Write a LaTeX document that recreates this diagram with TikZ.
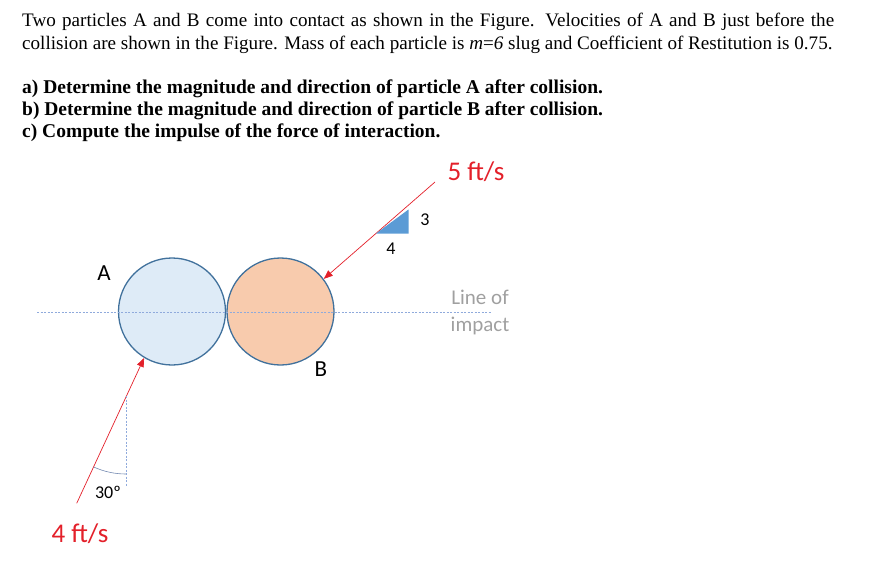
\documentclass[tikz,border=0pt]{standalone}
\usepackage{fontspec}
\setmainfont{Liberation Serif}
\newfontfamily\calib{Carlito}
\usepackage{xcolor}
\usepackage{tikz}
\usetikzlibrary{arrows.meta}
\definecolor{edge}{HTML}{41719C}
\definecolor{fillA}{HTML}{DEEBF7}
\definecolor{fillB}{HTML}{F8CBAD}
\definecolor{vel}{HTML}{E3202A}
\definecolor{guide}{HTML}{8FAADC}
\definecolor{muted}{HTML}{A0A0A0}
\definecolor{slope}{HTML}{5B9BD5}
\tikzset{
  txt/.style={anchor=west, inner sep=0pt, font=\fontsize{19.1}{23}\selectfont},
  btxt/.style={txt, font=\fontsize{19.5}{23}\selectfont\bfseries},
  ball/.style={circle, draw=edge, line width=1.3pt, minimum size=107pt, inner sep=0pt},
  vec/.style={draw=vel, line width=0.7pt, -{Triangle[length=9pt,width=7pt]}},
  lbl/.style={font=\calib\fontsize{23}{26}\selectfont, inner sep=0pt},
  small/.style={font=\calib\fontsize{18}{21}\selectfont, inner sep=0pt},
  speed/.style={text=vel, font=\calib\fontsize{27}{30}\selectfont, inner sep=0pt},
  gline/.style={draw=guide, line width=0.6pt, dash pattern=on 2pt off 1.5pt}
}
\begin{document}
\begin{tikzpicture}[x=1pt,y=-1pt]
\useasboundingbox (0,0) rectangle (896,563);
% problem text
\node[txt] (l1) at (22,22) {\makebox[812pt][s]{Two particles A and B come into contact as shown in the Figure. Velocities of A and B just before the}};
\node[txt] (l2) at (22,45) {collision are shown in the Figure. Mass of each particle is \textit{m}=\textit{6} slug and Coefficient of Restitution is 0.75.};
\node[btxt] (qa) at (22,89) {a) Determine the magnitude and direction of particle A after collision.};
\node[btxt] (qb) at (22,111) {b) Determine the magnitude and direction of particle B after collision.};
\node[btxt] (qc) at (22,133) {c) Compute the impulse of the force of interaction.};
% particles
\node[ball, fill=fillA] (pA) at (172,311.5) {};
\node[ball, fill=fillB] (pB) at (280.5,311.5) {};
\node[lbl] (labA) at (104,273) {A};
\node[lbl] (labB) at (321,369) {B};
% line of impact
\coordinate (li1) at (37,312);
\coordinate (li2) at (492,312);
\draw[gline] (li1) -- (li2);
\node[text=muted, font=\calib\fontsize{21}{27}\selectfont, align=center, inner sep=0pt] (loi) at (480,312) {Line of\\impact};
% velocity of B
\coordinate (sB) at (435,182);
\draw[vec] (sB) -- (pB.37);
\node[speed] (vB) at (476,172) {5 ft/s};
\fill[slope] (376,233.5) -- (408.5,233.5) -- (408.5,209.5) -- cycle;
\node[small] (n3) at (425,220) {3};
\node[small] (n4) at (391,249) {4};
% velocity of A
\coordinate (sA) at (76.7,503.3);
\draw[vec] (sA) -- (pA.239);
\coordinate (ax) at (126,396);
\coordinate (ay) at (126,487);
\draw[gline] (ax) -- (ay);
\draw[draw=guide!80!black, line width=0.6pt] (ax) ++(114.7:78) arc[start angle=114.7, end angle=90, radius=78];
\node[small] (ang) at (108,492) {30º};
\node[speed] (vA) at (80,534) {4 ft/s};
\end{tikzpicture}
\end{document}
